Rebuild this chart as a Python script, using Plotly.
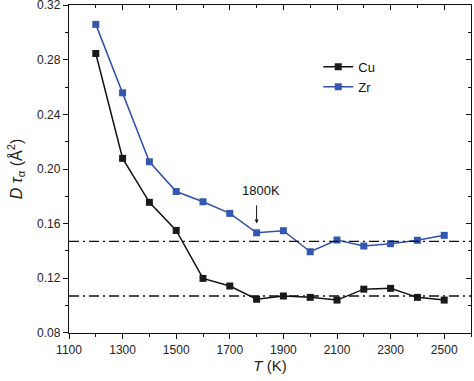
import plotly.graph_objects as go

T = [1200, 1300, 1400, 1500, 1600, 1700, 1800, 1900, 2000, 2100, 2200, 2300, 2400, 2500]
cu = [0.2846, 0.2078, 0.1756, 0.1550, 0.1199, 0.1143, 0.1046, 0.1070, 0.1060, 0.1040, 0.1120, 0.1126, 0.1060, 0.1040]
zr = [0.3059, 0.2558, 0.2053, 0.1835, 0.1760, 0.1675, 0.1533, 0.1548, 0.1394, 0.1480, 0.1436, 0.1453, 0.1478, 0.1514]
ref_levels = [0.147, 0.107]
x_ticks = [1100, 1300, 1500, 1700, 1900, 2100, 2300, 2500]
y_ticks = [0.08, 0.12, 0.16, 0.20, 0.24, 0.28, 0.32]

FONT = "Liberation Sans, Arial, sans-serif"
XR = [1100, 2600]
YR = [0.0799, 0.3201]
fig = go.Figure()
fig.add_trace(go.Scatter(x=T, y=cu, name="Cu", mode="lines+markers",
                         line=dict(color="#111111", width=1.5),
                         marker=dict(symbol="square", size=7, color="#1a1a1a")))
fig.add_trace(go.Scatter(x=T, y=zr, name="Zr", mode="lines+markers",
                         line=dict(color="#3050a8", width=1.5),
                         marker=dict(symbol="square", size=7, color="#3557b0")))

for lv in ref_levels:
    fig.add_shape(type="line", xref="paper", x0=0, x1=1, yref="y", y0=lv, y1=lv,
                  line=dict(color="#111111", width=1.3, dash="10px,4px,2px,4px"))

fig.add_annotation(x=1800, y=0.160, ax=1800, ay=0.1745, xref="x", yref="y",
                   axref="x", ayref="y", text="", showarrow=True,
                   arrowhead=2, arrowsize=0.8, arrowwidth=1, arrowcolor="#111111")
fig.add_annotation(x=1815, y=0.184, xref="x", yref="y", text="1800K", showarrow=False,
                   font=dict(size=13, color="#111111", family=FONT))

axis_common = dict(showline=True, linecolor="#111111", linewidth=1.3, showgrid=False,
                   zeroline=False, ticks="outside", ticklen=5, tickwidth=1.2, automargin=False,
                   ticklabeloverflow="allow",
                   tickcolor="#111111", tickfont=dict(size=12, color="#222222", family=FONT))
mirror_common = dict(showline=True, linecolor="#111111", linewidth=1.3, ticks="inside",
                     ticklen=5, tickwidth=1.2, tickcolor="#111111", showticklabels=False,
                     showgrid=False, zeroline=False, automargin=False)
fig.update_layout(
    width=474, height=381,
    margin=dict(l=69, r=3, t=5, b=48),
    paper_bgcolor="white", plot_bgcolor="white",
    font=dict(family=FONT, color="#222222"),
    xaxis=dict(range=XR, tickvals=x_ticks, **axis_common,
               minor=dict(dtick=100, tick0=1100, ticks="outside", ticklen=3, tickcolor="#111111"),
               title=dict(text="<i>T</i> (K)", font=dict(size=15), standoff=4)),
    yaxis=dict(range=YR, tickvals=y_ticks, tickformat=".2f", **axis_common,
               minor=dict(dtick=0.02, tick0=0.08, ticks="outside", ticklen=3, tickcolor="#111111"),
               title=dict(text="<i>D</i> <i>τ</i><sub>α</sub> (Å<sup>2</sup>)", font=dict(size=16), standoff=10)),
    xaxis2=dict(range=XR, overlaying="x", side="top", tickvals=x_ticks, **mirror_common,
                minor=dict(dtick=100, tick0=1100, ticks="inside", ticklen=3, tickcolor="#111111")),
    yaxis2=dict(range=YR, overlaying="y", side="right", tickvals=y_ticks, **mirror_common,
                minor=dict(dtick=0.02, tick0=0.08, ticks="inside", ticklen=3, tickcolor="#111111")),
    legend=dict(x=0.62, y=0.857, xanchor="left", yanchor="top", bgcolor="rgba(0,0,0,0)",
                font=dict(size=13, color="#111111"), itemwidth=30, tracegroupgap=0),
    showlegend=True,
)
fig.add_trace(go.Scatter(x=[None], y=[None], xaxis="x2", yaxis="y2", showlegend=False,
                         hoverinfo="skip"))
fig.write_html("out.html", config={"displayModeBar": False},
               post_script="document.body.style.margin='0';document.body.style.overflow='hidden';")
